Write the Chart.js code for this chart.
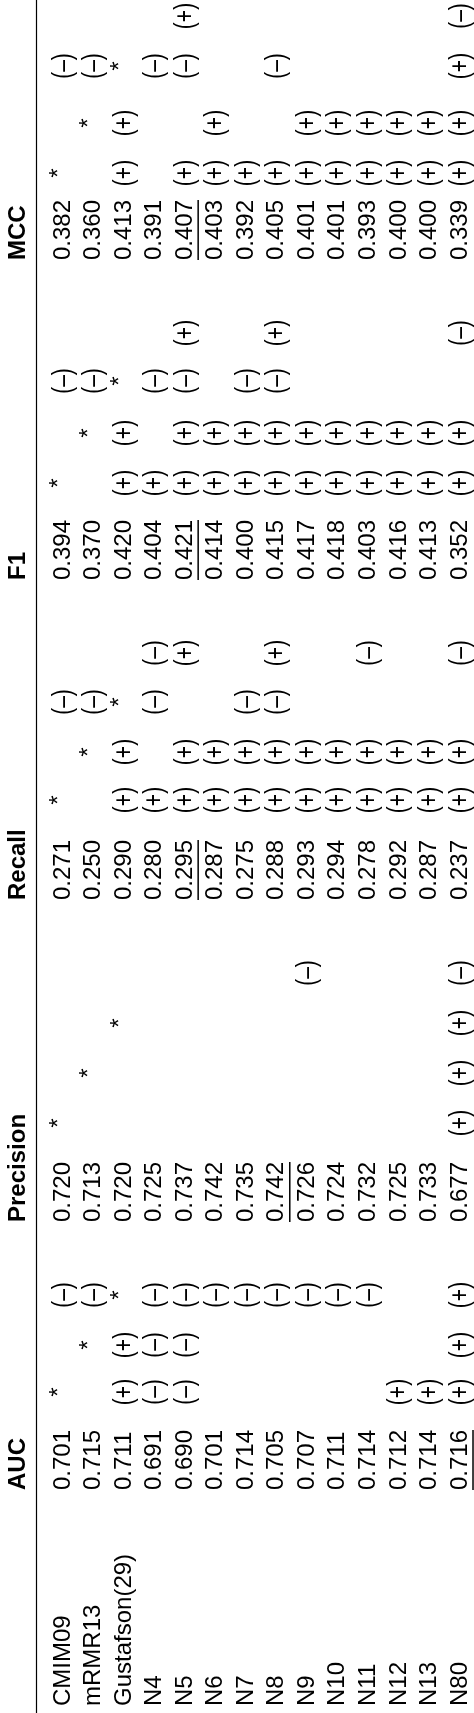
<!DOCTYPE html>
<html>
<head>
<meta charset="utf-8">
<script src="https://cdn.jsdelivr.net/npm/chart.js@4"></script>
<style>
  html, body { margin: 0; padding: 0; background: #fff; }
  #wrap { width: 474px; height: 1713px; }
</style>
</head>
<body>
<div id="wrap"><canvas id="c"></canvas></div>
<script>
const methods = ['CMIM09','mRMR13','Gustafson(29)','N4','N5','N6','N7','N8','N9','N10','N11','N12','N13','N80'];
const metrics = ['AUC','Precision','Recall','F1','MCC'];

const auc       = [0.701,0.715,0.711,0.691,0.690,0.701,0.714,0.705,0.707,0.711,0.714,0.712,0.714,0.716];
const precision = [0.720,0.713,0.720,0.725,0.737,0.742,0.735,0.742,0.726,0.724,0.732,0.725,0.733,0.677];
const recall    = [0.271,0.250,0.290,0.280,0.295,0.287,0.275,0.288,0.293,0.294,0.278,0.292,0.287,0.237];
const f1        = [0.394,0.370,0.420,0.404,0.421,0.414,0.400,0.415,0.417,0.418,0.403,0.416,0.413,0.352];
const mcc       = [0.382,0.360,0.413,0.391,0.407,0.403,0.392,0.405,0.401,0.401,0.393,0.400,0.400,0.339];

// significance marks per comparison slot: '*', '+', '-', '' (methods order)
const _ = '';
const aucSig = [
  ['*',_,'+','-','-',_,_,_,_,_,_,'+','+','+'],
  [_,'*','+','-','-',_,_,_,_,_,_,_,_,'+'],
  ['-','-','*','-','-','-','-','-','-','-','-',_,_,'+']
];
const precisionSig = [
  ['*',_,_,_,_,_,_,_,_,_,_,_,_,'+'],
  [_,'*',_,_,_,_,_,_,_,_,_,_,_,'+'],
  [_,_,'*',_,_,_,_,_,_,_,_,_,_,'+'],
  [_,_,_,_,_,_,_,_,'-',_,_,_,_,'-']
];
const recallSig = [
  ['*',_,'+','+','+','+','+','+','+','+','+','+','+','+'],
  [_,'*','+',_,'+','+','+','+','+','+','+','+','+','+'],
  ['-','-','*','-',_,_,'-','-',_,_,_,_,_,_],
  [_,_,_,'-','+',_,_,'+',_,_,'-',_,_,'-']
];
const f1Sig = [
  ['*',_,'+','+','+','+','+','+','+','+','+','+','+','+'],
  [_,'*','+',_,'+','+','+','+','+','+','+','+','+','+'],
  ['-','-','*','-','-',_,'-','-',_,_,_,_,_,_],
  [_,_,_,_,'+',_,_,'+',_,_,_,_,_,'-']
];
const mccSig = [
  ['*',_,'+',_,'+','+','+','+','+','+','+','+','+','+'],
  [_,'*','+',_,_,'+',_,_,'+','+','+','+','+','+'],
  ['-','-','*','-','-',_,_,'-',_,_,_,_,_,'+'],
  [_,_,_,_,'+',_,_,_,_,_,_,_,_,'-']
];
const best = [13, 7, 4, 4, 4];

// layout: bottom of each value column and centres of its mark slots (page pixels)
const valueBase = [1490, 1222, 900, 580, 260];
const slotPos = [
  [1392, 1345, 1295],
  [1123, 1073, 1023, 973],
  [800, 752, 702, 653],
  [483, 433, 381, 333],
  [173, 123, 66, 16]
];
const allValues = [auc, precision, recall, f1, mcc];
const allSig = [aucSig, precisionSig, recallSig, f1Sig, mccSig];

const datasets = [];
allValues.forEach((vals, m) => {
  datasets.push({
    kind: 'value', metric: m, texts: vals.map(v => v.toFixed(3)),
    data: vals.map((v, i) => ({ x: i, y: valueBase[m] })), pointRadius: 0
  });
  allSig[m].forEach((slot, s) => {
    datasets.push({
      kind: 'mark', texts: slot,
      data: slot.map((t, i) => ({ x: i, y: slotPos[m][s] })), pointRadius: 0
    });
  });
});
datasets.push({
  kind: 'name', texts: methods,
  data: methods.map((n, i) => ({ x: i, y: 1706 })), pointRadius: 0
});

const textPlugin = {
  id: 'rotText',
  afterDatasetsDraw(chart) {
    const { ctx } = chart;
    const xs = chart.scales.x, ys = chart.scales.y;
    ctx.save();
    ctx.fillStyle = '#000';
    ctx.strokeStyle = '#000';
    // left rule
    ctx.lineWidth = 1.2;
    ctx.beginPath();
    ctx.moveTo(36.5, 0); ctx.lineTo(36.5, chart.height);
    ctx.stroke();
    // headers
    ctx.font = 'bold 24px "Liberation Sans", Arial, sans-serif';
    metrics.forEach((h, m) => {
      ctx.save();
      ctx.translate(xs.getPixelForValue(-1.45), ys.getPixelForValue(valueBase[m]));
      ctx.rotate(-Math.PI / 2);
      ctx.textAlign = 'left'; ctx.textBaseline = 'middle';
      ctx.fillText(h, 0, 0);
      ctx.restore();
    });
    chart.data.datasets.forEach((ds, di) => {
      const meta = chart.getDatasetMeta(di);
      meta.data.forEach((pt, i) => {
        const t = ds.texts[i];
        if (!t) return;
        ctx.save();
        ctx.translate(pt.x, pt.y);
        ctx.rotate(-Math.PI / 2);
        ctx.textBaseline = 'middle';
        if (ds.kind === 'mark') {
          ctx.textAlign = 'center';
          if (t === '*') {
            ctx.font = '24px "Liberation Sans", Arial, sans-serif';
            ctx.fillText('*', 0, -4);
          } else {
            ctx.scale(1, 1.3);
            ctx.font = '21px "Liberation Sans", Arial, sans-serif';
            ctx.fillText(t === '+' ? '(+)' : '(\u2013)', 0, 0);
          }
        } else {
          ctx.font = '24px "Liberation Sans", Arial, sans-serif';
          ctx.textAlign = 'left';
          ctx.fillText(t, 0, 0);
          if (ds.kind === 'value' && best[ds.metric] === i) {
            const w = ctx.measureText(t).width;
            ctx.lineWidth = 1.5;
            ctx.beginPath();
            ctx.moveTo(0, 13); ctx.lineTo(w, 13);
            ctx.stroke();
          }
        }
        ctx.restore();
      });
    });
    ctx.restore();
  }
};

new Chart(document.getElementById('c'), {
  type: 'scatter',
  data: { datasets },
  options: {
    responsive: true,
    maintainAspectRatio: false,
    animation: false,
    layout: { padding: 0 },
    plugins: { legend: { display: false }, tooltip: { enabled: false } },
    scales: {
      x: { type: 'linear', display: false, min: -2.063, max: 13.458 },
      y: { type: 'linear', display: false, min: 0, max: 1713, reverse: true }
    }
  },
  plugins: [textPlugin]
});
</script>
</body>
</html>
